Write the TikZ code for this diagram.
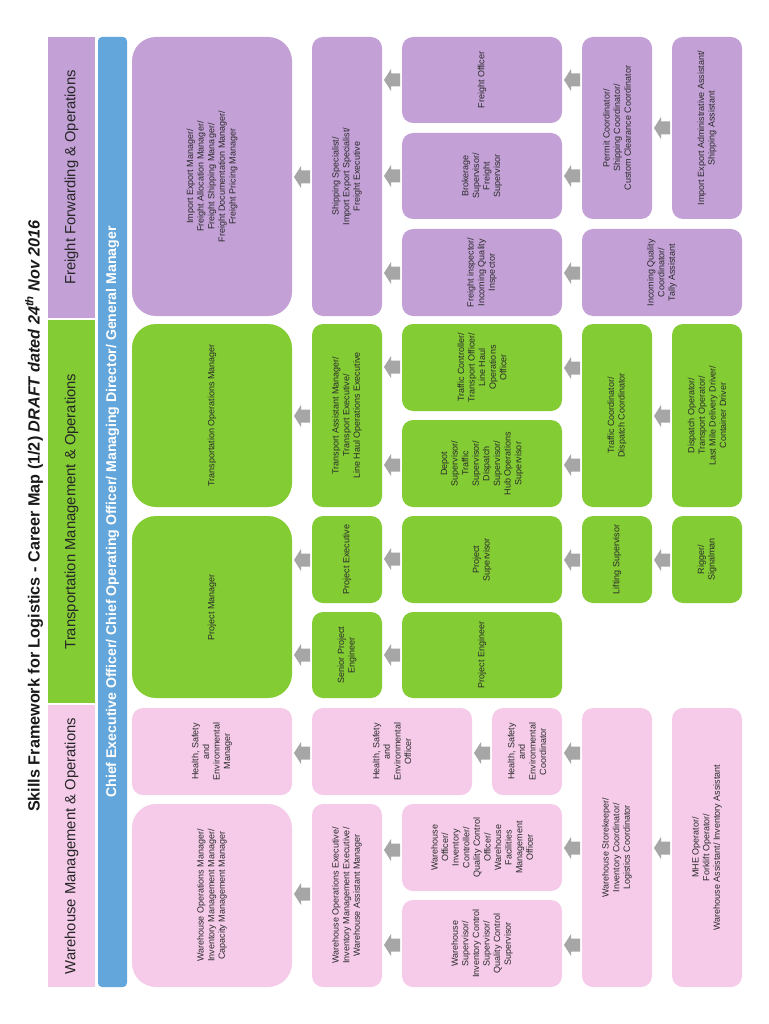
\documentclass[tikz,border=0pt]{standalone}
\usepackage{fontspec}
\setmainfont{Liberation Sans}
\definecolor{frpurple}{HTML}{C3A0D6}
\definecolor{trgreen}{HTML}{84CC34}
\definecolor{whpink}{HTML}{F5CBE9}
\definecolor{ceoblue}{HTML}{63A6DB}
\definecolor{arrowgrey}{HTML}{A6A6A6}
\definecolor{txtgrey}{HTML}{2A2A2A}
\newcommand\bxfont{\fontsize{9}{10.6}\selectfont}
\newcommand\hdfont{\fontsize{14.8}{17}\selectfont}
\begin{document}
\begin{tikzpicture}[x=1pt,y=-1pt,
  box/.style={rotate=90, inner sep=1pt, outer sep=0pt, align=center,
    rounded corners=11pt, font=\bxfont, text=txtgrey},
  big/.style={rounded corners=24pt},
  sz/.style 2 args={minimum width=#1, minimum height=#2},
  fr/.style={fill=frpurple}, tr/.style={fill=trgreen}, wh/.style={fill=whpink},
  band/.style={rotate=90, inner sep=0pt, outer sep=0pt, font=\hdfont, text=black!85},
  garrow/.pic={\fill[arrowgrey] (-8,0) -- (-1,-11) -- (-1,-6.5) -- (8,-6.5) -- (8,6.5) -- (-1,6.5) -- (-1,11) -- cycle;}
]
\useasboundingbox[fill=white] (0,0) rectangle (768,1024);

% title
\node[rotate=90, font=\bfseries\fontsize{16.2}{19}\selectfont, text=black!90] (title) at (34,516)
  {Skills Framework for Logistics - Career Map (1/2) \textit{DRAFT dated 24\textsuperscript{th} Nov 2016}};

% header bands
\node[band, fill=frpurple, sz={281}{47}] (hfr) at (71.5,177.5) {Freight Forwarding \& Operations};
\node[band, fill=trgreen, sz={383}{47}] (htr) at (71.5,511.5) {Transportation Management \& Operations};
\node[band, fill=whpink, sz={282}{47}] (hwh) at (71.5,846) {Warehouse Management \& Operations};

% blue bar
\node[rotate=90, fill=ceoblue, rounded corners=4pt, inner sep=0pt, sz={950}{29},
  font=\bfseries\fontsize{14.1}{16}\selectfont, text=white] (ceo) at (112.5,512)
  {Chief Executive Officer/ Chief Operating Officer/ Managing Director/ General Manager};

% Freight forwarding
\node[box, big, fr, sz={279}{160}] (F1) at (212,176.5) {Import Export Manager/\\Freight Allocation Manager/\\Freight Shipping Manager/\\Freight Documentation Manager/\\Freight Pricing Manager};
\node[box, fr, sz={279}{70}] (F2) at (347,176.5) {Shipping Specialist/\\Import Export Specialist/\\Freight Executive};
\node[box, fr, sz={86}{160}] (F3) at (482,80) {Freight Officer};
\node[box, fr, sz={86}{160}] (F4) at (482,176) {Brokerage\\Supervisor/\\Freight\\Supervisor};
\node[box, fr, sz={87}{160}] (F5) at (482,272.5) {Freight inspector/\\Incoming Quality\\Inspector};
\node[box, fr, sz={182}{70}] (F6) at (617,128) {Permit Coordinator/\\Shipping Coordinator/\\Custom Clearance Coordinator};
\node[box, fr, sz={182}{70}] (F7) at (707,128) {Import Export Administrative Assistant/\\Shipping Assistant};
\node[box, fr, sz={87}{160}] (F8) at (662,272.5) {Incoming Quality\\Coordinator/\\Tally Assistant};

% Transportation
\node[box, big, tr, sz={183}{160}] (T1) at (212,415.5) {Transportation Operations Manager};
\node[box, big, tr, sz={182}{160}] (T2) at (212,607) {Project Manager};
\node[box, tr, sz={183}{70}] (T3) at (347,415.5) {Transport Assistant Manager/\\Transport Executive/\\Line Haul Operations Executive};
\node[box, tr, sz={87}{70}] (T4) at (347,559.5) {Project Executive};
\node[box, tr, sz={86}{70}] (T5) at (347,655) {Senior Project\\Engineer};
\node[box, tr, sz={87}{160}] (T6) at (482,367.5) {Traffic Controller/\\Transport Officer/\\Line Haul\\Operations\\Officer};
\node[box, tr, sz={87}{160}] (T7) at (482,463.5) {Depot\\Supervisor/\\Traffic\\Supervisor/\\Dispatch\\Supervisor/\\Hub Operations\\Supervisor};
\node[box, tr, sz={87}{160}] (T8) at (482,559.5) {Project\\Supervisor};
\node[box, tr, sz={86}{160}] (T9) at (482,655) {Project Engineer};
\node[box, tr, sz={183}{70}] (T10) at (617,415.5) {Traffic Coordinator/\\Dispatch Coordinator};
\node[box, tr, sz={87}{70}] (T11) at (617,559.5) {Lifting Supervisor};
\node[box, tr, sz={183}{70}] (T12) at (707,415.5) {Dispatch Operator/\\Transport Operator/\\Last Mile Delivery Driver/\\Container Driver};
\node[box, tr, sz={87}{70}] (T13) at (707,559.5) {Rigger/\\Signalman};

% Warehouse
\node[box, wh, sz={87}{160}] (W1) at (212,751.5) {Health, Safety\\and\\Environmental\\Manager};
\node[box, big, wh, sz={183}{160}] (W2) at (212,895.5) {Warehouse Operations Manager/\\Inventory Management Manager/\\Capacity Management Manager};
\node[box, wh, sz={87}{160}] (W3) at (392,751.5) {Health, Safety\\and\\Environmental\\Officer};
\node[box, wh, sz={183}{70}] (W4) at (347,895.5) {Warehouse Operations Executive/\\Inventory Management Executive/\\Warehouse Assistant Manager};
\node[box, wh, sz={87}{70}] (W5) at (527,751.5) {Health, Safety\\and\\Environmental\\Coordinator};
\node[box, wh, sz={87}{160}] (W6) at (482,847.5) {Warehouse\\Officer/\\Inventory\\Controller/\\Quality Control\\Officer/\\Warehouse\\Facilities\\Management\\Officer};
\node[box, wh, sz={87}{160}] (W7) at (482,943.5) {Warehouse\\Supervisor/\\Inventory Control\\Supervisor/\\Quality Control\\Supervisor};
\node[box, wh, sz={279}{70}] (W8) at (617,847.5) {Warehouse Storekeeper/\\Inventory Coordinator/\\Logistics Coordinator};
\node[box, wh, sz={279}{70}] (W9) at (707,847.5) {MHE Operator/\\Forklift Operator/\\Warehouse Assistant/ Inventory Assistant};

% arrows (pointing towards the more senior role)
\foreach \p in {(302,177),(392,80),(392,176),(392,273),(572,80),(572,176),(572,273),(662,128),
  (302,416),(302,560),(302,655),(392,367),(392,465),(392,559),(392,655),(572,368),(572,465),(572,560),(662,416),(662,560),
  (302,753),(302,894),(482,753),(392,850),(392,945),(572,753),(572,848),(572,945),(662,848)}
  \pic at \p {garrow};
\end{tikzpicture}
\end{document}
